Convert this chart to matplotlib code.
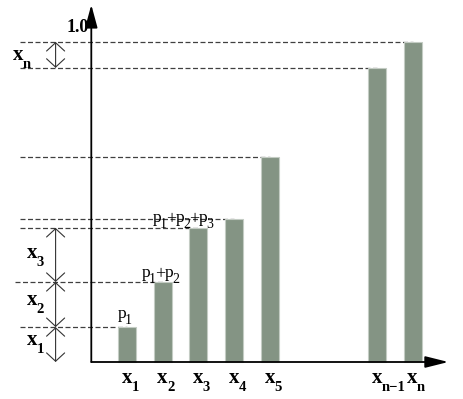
import matplotlib
matplotlib.use('Agg')
import matplotlib.pyplot as plt

# cumulative probabilities, one bar per sample point
labels = ['1', '2', '3', '4', '5', 'n\u22121', 'n']
slots = [1, 2, 3, 4, 5, 8, 9]
cum = [0.109, 0.25, 0.419, 0.447, 0.64, 0.919, 1.0]
sum_labels = [['1'], ['1', '2'], ['1', '2', '3']]

bar_color = '#849484'
dash_color = '#404040'

fig = plt.figure(figsize=(4.63, 3.99), dpi=100)
ax = fig.add_axes([0, 0, 1, 1])
ax.set_xlim(-2.557, 10.41)
ax.set_ylim(-0.1156, 1.131)
ax.axis('off')
renderer = fig.canvas.get_renderer()


def chain(x, y, pieces, weight='normal'):
    # write pieces (text, size, drop, kern in points) one after another on a baseline
    off = 0.0
    for s, size, dy, kern in pieces:
        t = ax.annotate(s, xy=(x, y), xytext=(off + kern, -dy),
                        textcoords='offset points', fontsize=size,
                        family='Liberation Serif', fontweight=weight,
                        ha='left', va='baseline', zorder=4)
        off += kern + t.get_window_extent(renderer).width * 72 / fig.dpi


def xlabel(x, y, sub):
    chain(x, y, [('x', 15, 0, 0), (sub, 10.5, 6.0, -0.6)], weight='bold')


# dashed guide lines from the left margin to each bar top
for i, (s, c) in enumerate(zip(slots, cum)):
    x0 = -2.15 if i == 1 else -2.0
    ax.plot([x0, s], [c, c], color=dash_color, lw=0.9, dashes=(4, 2), zorder=1)

ax.bar(slots, cum, width=0.5, color=bar_color, edgecolor='#c4ccc4',
       linewidth=0.8, zorder=2)

# axes with arrow heads
ax.annotate('', xy=(10.0, 0), xytext=(0, 0),
            arrowprops=dict(arrowstyle='-|>,head_length=1.4,head_width=0.35',
                            color='black', lw=1.3, shrinkA=0, shrinkB=0,
                            mutation_scale=10), zorder=3)
ax.annotate('', xy=(0, 1.116), xytext=(0, 0),
            arrowprops=dict(arrowstyle='-|>,head_length=1.4,head_width=0.38',
                            color='black', lw=1.3, shrinkA=0, shrinkB=0,
                            mutation_scale=10), zorder=3)
ax.text(-0.37, 1.044, '1.0', fontsize=13, fontweight='bold',
        family='Liberation Serif', ha='center', va='center')

# tick labels under the bars
for s, lab in zip(slots, labels):
    xlabel(s - 0.15, -0.0656, lab)

# double arrows on the left showing each interval
def interval(lo, hi):
    ax.annotate('', xy=(-1.0, hi), xytext=(-1.0, lo),
                arrowprops=dict(arrowstyle='<->,head_length=0.6,head_width=0.65',
                                color='#333333', lw=0.8, shrinkA=0, shrinkB=0,
                                mutation_scale=10))

interval(cum[5], cum[6])
interval(0, cum[0])
interval(cum[0], cum[1])
interval(cum[1], cum[2])

xlabel(-2.19, 0.944, 'n')
for k, y in zip(['1', '2', '3'], [0.053, 0.178, 0.325]):
    xlabel(-1.80, y, k)

# partial sum labels above the first bars
for s, c, subs in zip([0.75, 1.42, 1.73], [0.1375, 0.266, 0.4375], sum_labels):
    pieces = []
    for j, k in enumerate(subs):
        if j:
            pieces.append(('+', 13, 1.5, -0.8))
        pieces.append(('p', 12.5, 0, -0.3))
        pieces.append((k, 10, 4.5, -0.8))
    chain(s, c, pieces)

fig.savefig('out.png', dpi=100)
